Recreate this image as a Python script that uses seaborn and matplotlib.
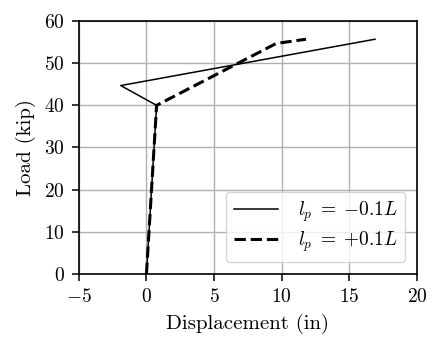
import matplotlib
matplotlib.use("Agg")
import matplotlib.pyplot as plt
import seaborn as sns
import pandas as pd

# Data
disp_neg = [0.0, 0.75, -1.9, 16.9]
load_neg = [0.0, 40.0, 44.7, 55.7]
disp_pos = [0.0, 0.75, 9.6, 11.8]
load_pos = [0.0, 40.0, 54.7, 55.7]
labels = [r"$l_p\;=\;{-}0.1L$", r"$l_p\;=\;{+}0.1L$"]
xticks = [-5, 0, 5, 10, 15, 20]
yticks = [0, 10, 20, 30, 40, 50, 60]

plt.rcParams.update({
    "font.family": "serif",
    "font.serif": ["cmr10"],
    "mathtext.fontset": "cm",
    "axes.formatter.use_mathtext": True,
    "font.size": 14,
})

df_neg = pd.DataFrame({"x": disp_neg, "y": load_neg})
df_pos = pd.DataFrame({"x": disp_pos, "y": load_pos})

fig, ax = plt.subplots(figsize=(4.43, 3.52), dpi=100)
sns.lineplot(data=df_neg, x="x", y="y", sort=False, estimator=None, ax=ax,
             color="black", linewidth=1.1, label=labels[0])
sns.lineplot(data=df_pos, x="x", y="y", sort=False, estimator=None, ax=ax,
             color="black", linewidth=2.2, linestyle="--", label=labels[1])

ax.set_xlim(-5, 20)
ax.set_ylim(0, 60)
ax.set_xticks(xticks)
ax.set_yticks(yticks)
ax.tick_params(length=5, width=1.1, pad=5, labelsize=14)
ax.grid(True, color="#b0b0b0", linewidth=1.0)
ax.set_axisbelow(True)
ax.set_xlabel("Displacement (in)", fontsize=15, labelpad=6)
ax.set_ylabel("Load (kip)", fontsize=15, labelpad=6)
for s in ax.spines.values():
    s.set_linewidth(1.2)
leg = ax.legend(loc="lower right", fontsize=14, handlelength=2.3,
                borderaxespad=0.6, labelspacing=0.3, handletextpad=1.0)
leg.get_frame().set_edgecolor("#cccccc")
fig.subplots_adjust(left=0.178, right=0.941, top=0.94, bottom=0.222)
fig.savefig("out.png", dpi=100)
